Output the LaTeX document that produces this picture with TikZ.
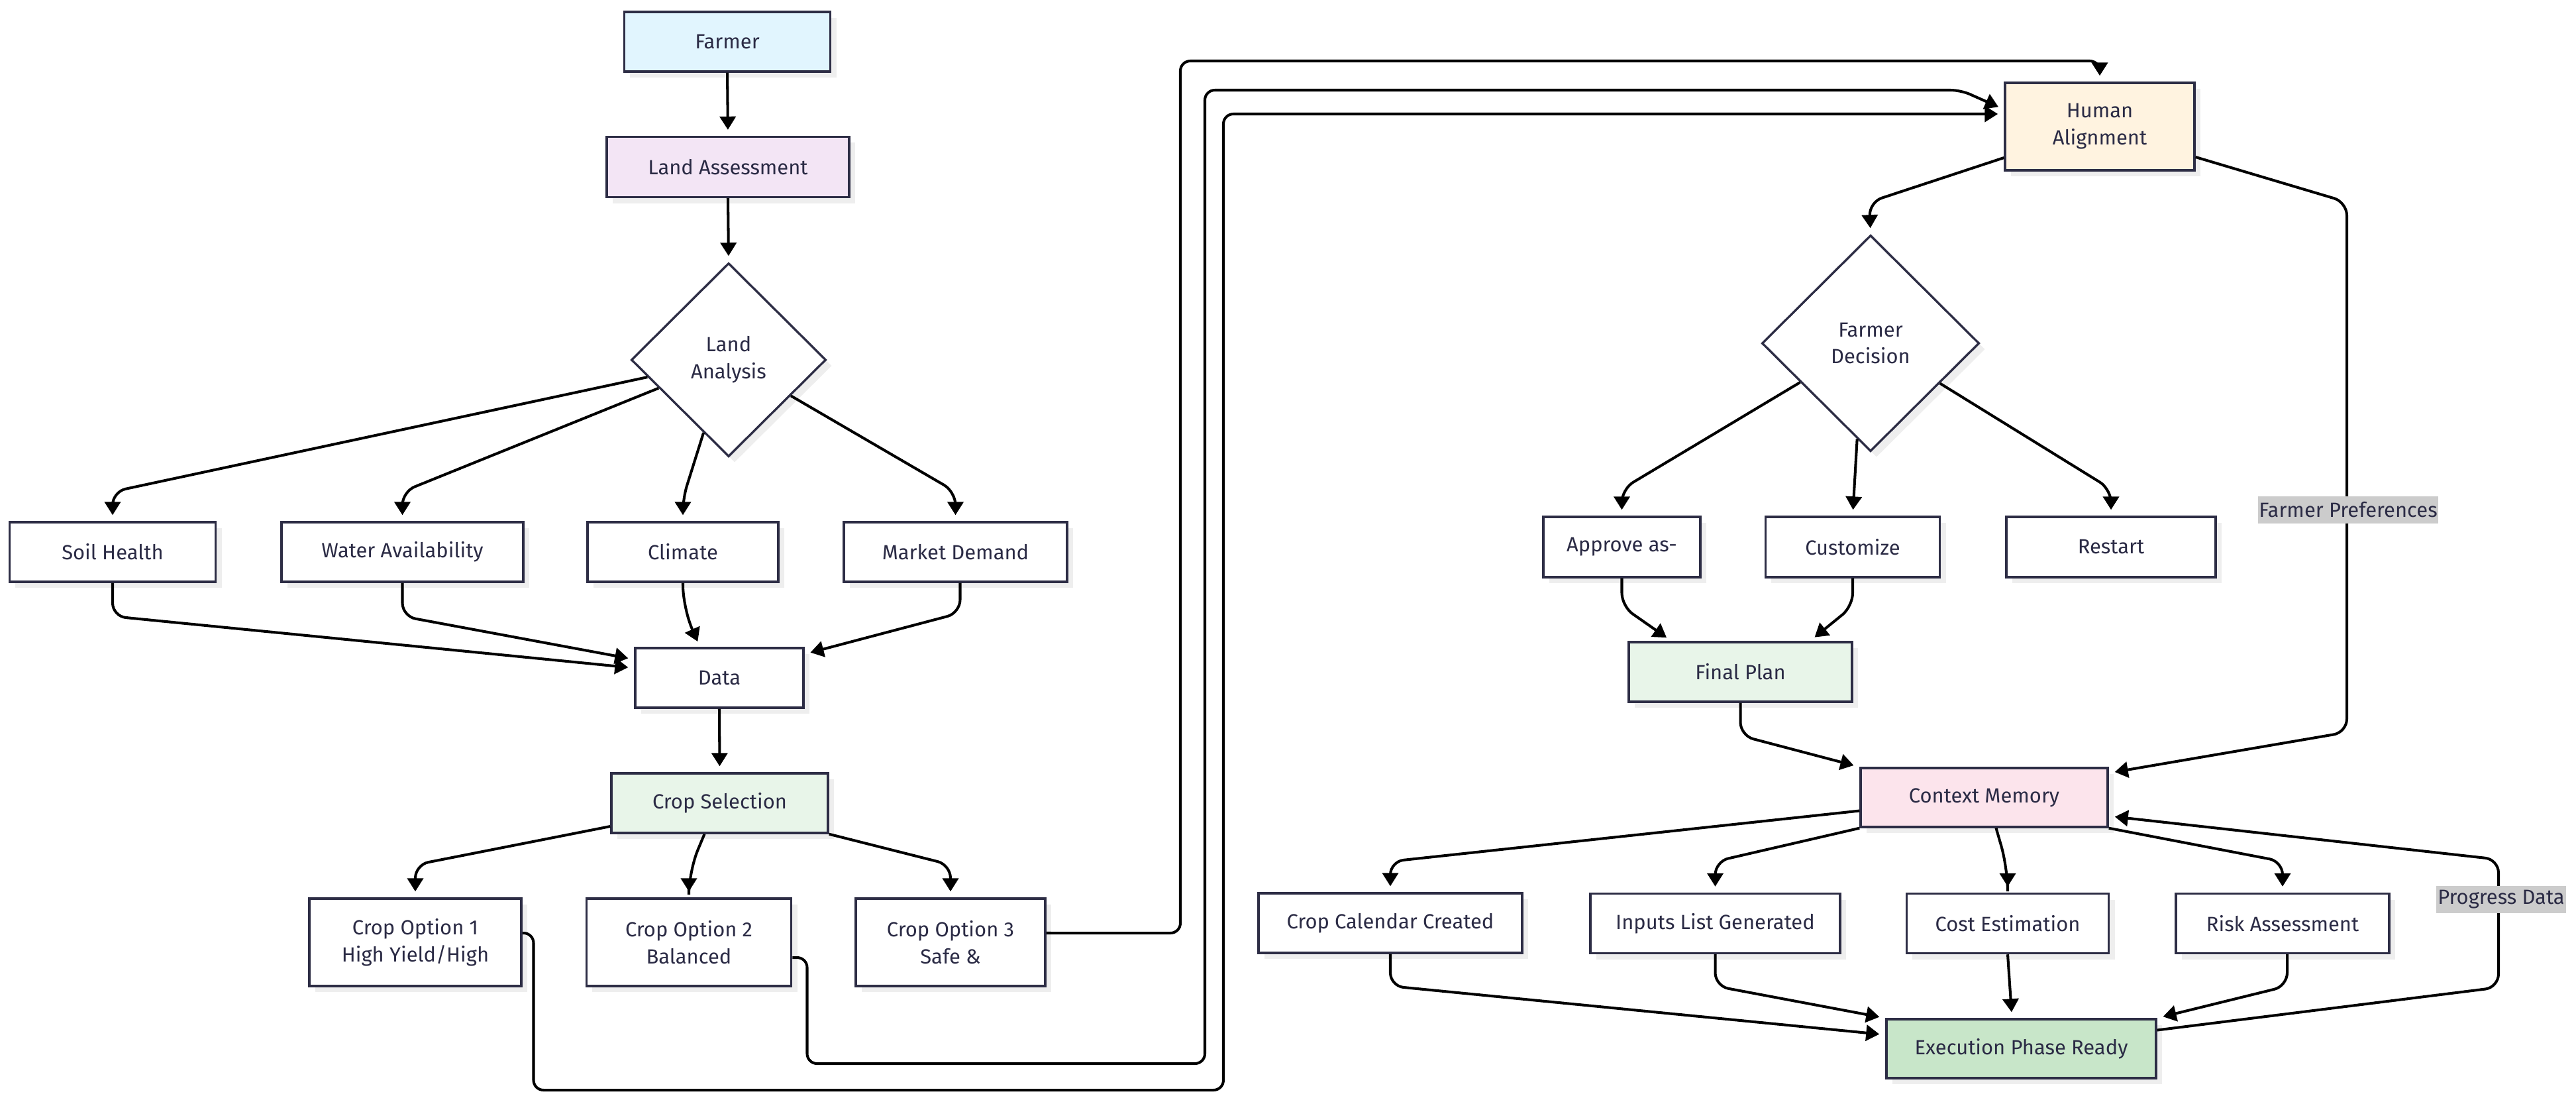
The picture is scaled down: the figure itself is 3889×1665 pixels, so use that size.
\documentclass[tikz,border=0pt]{standalone}
\usepackage{fontspec}
\setmainfont{Fira Sans}
\usetikzlibrary{shapes.geometric,arrows.meta,shadows}
\definecolor{bordc}{HTML}{2D2D45}
\definecolor{txtc}{HTML}{2B2B45}
\definecolor{shdc}{HTML}{EEEEEE}
\definecolor{lblc}{HTML}{CCCCCC}
\definecolor{cfarmer}{HTML}{E1F5FE}
\definecolor{cla}{HTML}{F3E5F5}
\definecolor{cgreen}{HTML}{E8F5E9}
\definecolor{cha}{HTML}{FFF3E0}
\definecolor{ccm}{HTML}{FCE4EC}
\definecolor{cex}{HTML}{C8E6C9}
\newcommand{\myfnt}{\fontsize{8.8}{11.6}\selectfont}
\tikzset{
  box/.style={draw=bordc, line width=0.95pt, fill=white, text=txtc, font=\myfnt,
    align=center, inner sep=0pt,
    drop shadow={shadow xshift=0.09cm, shadow yshift=-0.09cm, fill=shdc, opacity=1}},
  dia/.style={box, diamond, aspect=1},
  lbl/.style={fill=lblc, text=txtc, font=\myfnt, inner sep=0pt, minimum height=0.41cm},
  conn/.style={line width=1.15pt, black, rounded corners=0.2cm,
    -{Triangle[length=0.2cm,width=0.24cm]}, shorten >=0.09cm},
}
\begin{document}
\begin{tikzpicture}[x=0.01cm, y=-0.01cm]
\fill[white] (0,0) rectangle (3889,1665);
\useasboundingbox (0,0) rectangle (3889,1665);

% nodes
\node[box, fill=cfarmer, minimum width=3.11cm, minimum height=0.90cm] (farmer) at (1098,63) {Farmer};
\node[box, fill=cla, minimum width=3.66cm, minimum height=0.91cm] (lassess) at (1099,252) {Land Assessment};
\node[dia, minimum width=2.94cm, minimum height=2.92cm] (lan) at (1100,543) {Land\\Analysis};
\node[box, minimum width=3.11cm, minimum height=0.90cm] (soil) at (170,833) {Soil Health};
\node[box, minimum width=3.65cm, minimum height=0.90cm] (water) at (607.5,833) {Water Availability};
\node[box, minimum width=2.88cm, minimum height=0.90cm] (climate) at (1031,833) {Climate};
\node[box, minimum width=3.37cm, minimum height=0.90cm] (md) at (1442.5,833) {Market Demand};
\node[box, minimum width=2.54cm, minimum height=0.90cm] (data) at (1086,1023) {Data};
\node[box, fill=cgreen, minimum width=3.27cm, minimum height=0.90cm] (cs) at (1086.5,1212) {Crop Selection};
\node[box, minimum width=3.20cm, minimum height=1.32cm] (o1) at (627,1422) {Crop Option 1\\High Yield/High};
\node[box, minimum width=3.09cm, minimum height=1.32cm] (o2) at (1040,1422) {Crop Option 2\\Balanced};
\node[box, minimum width=2.86cm, minimum height=1.32cm] (o3) at (1435,1422) {Crop Option 3\\Safe \&};
\node[box, fill=cha, minimum width=2.86cm, minimum height=1.32cm] (ha) at (3170,191) {Human\\Alignment};
\node[dia, minimum width=3.28cm, minimum height=3.26cm] (fd) at (2824,518) {Farmer\\Decision};
\node[box, minimum width=2.37cm, minimum height=0.91cm] (ap) at (2448.5,825.5) {Approve as-};
\node[box, minimum width=2.63cm, minimum height=0.91cm] (cu) at (2797,825.5) {Customize};
\node[box, minimum width=3.16cm, minimum height=0.91cm] (rs) at (3187,825.5) {Restart};
\node[box, fill=cgreen, minimum width=3.37cm, minimum height=0.90cm] (fp) at (2627.5,1014) {Final Plan};
\node[box, fill=ccm, minimum width=3.73cm, minimum height=0.89cm] (cm) at (2995.5,1203.5) {Context Memory};
\node[box, minimum width=3.98cm, minimum height=0.90cm] (cc) at (2099,1393) {Crop Calendar Created};
\node[box, minimum width=3.77cm, minimum height=0.90cm] (inp) at (2589.5,1393.5) {Inputs List Generated};
\node[box, minimum width=3.05cm, minimum height=0.90cm] (cost) at (3031,1393.5) {Cost Estimation};
\node[box, minimum width=3.22cm, minimum height=0.90cm] (risk) at (3446,1393.5) {Risk Assessment};
\node[box, fill=cex, minimum width=4.07cm, minimum height=0.89cm] (ex) at (3051.5,1582.5) {Execution Phase Ready};

% connectors
\draw[conn] (farmer.south) -- (lassess.north);
\draw[conn] (lassess.south) -- (lan.north);
\draw[conn] (lan.192) -- (170,742) -- (soil.north);
\draw[conn] (lan.202) -- (607.5,742) -- (water.north);
\draw[conn] (lan.251) -- (1031,752) -- (climate.north);
\draw[conn] (lan.330) -- (1442.5,742) -- (md.north);
\draw[conn] (soil.south) -- (170,930) -- ([yshift=0.15cm]data.west);
\draw[conn] (water.south) -- (607.5,930) -- ([yshift=0.28cm]data.west);
\draw[conn, rounded corners=0.35cm] (climate.south) -- (1031,918) -- ([xshift=-0.29cm]data.north);
\draw[conn] ([xshift=0.07cm]md.south) -- (1449.5,925) -- ([yshift=0.36cm]data.east);
\draw[conn] (data.south) -- (cs.north);
\draw[conn] ([yshift=-0.35cm]cs.west) -- (627,1305) -- (o1.north);
\draw[conn, rounded corners=0.35cm] ([xshift=-0.23cm]cs.south) -- (1040,1315) -- (o2.north);
\draw[conn] (cs.south east) -- (1435,1305) -- (o3.north);
% loops to Human Alignment
\draw[conn, rounded corners=0.15cm] ([yshift=0.14cm]o3.east) -- (1782,1408) -- (1782,92) -- (3170,92) -- (ha.north);
\draw[conn, rounded corners=0.15cm] ([yshift=-0.23cm]o2.east) -- (1218.5,1445) -- (1218.5,1605) -- (1819,1605) -- (1819,136) -- (2960,136) -- ([yshift=0.26cm]ha.west);
\draw[conn, rounded corners=0.15cm] ([yshift=0.14cm]o1.east) -- (805.5,1408) -- (805.5,1645) -- (1847,1645) -- (1847,172) -- ([yshift=0.19cm]ha.west);
% right side
\draw[conn] ([yshift=-0.47cm]ha.west) -- (2822,305) -- (fd.north);
\draw[conn] ([yshift=-0.46cm]ha.east) -- (3543,305) -- (3543,1105) -- ([yshift=0.37cm]cm.east);
\draw[conn] (fd.209) -- (2448.5,738) -- (ap.north);
\draw[conn] (fd.262) -- (cu.north);
\draw[conn] (fd.330) -- (3187,738) -- (rs.north);
\draw[conn] (ap.south) -- (2448.5,915) -- ([xshift=-1.04cm]fp.north);
\draw[conn] (cu.south) -- (2797,915) -- ([xshift=1.05cm]fp.north);
\draw[conn] (fp.south) -- (2627.5,1110) -- (cm.north west);
\draw[conn] ([yshift=-0.2cm]cm.west) -- (2099,1300) -- (cc.north);
\draw[conn] (cm.south west) -- (2589.5,1300) -- (inp.north);
\draw[conn, rounded corners=0.35cm] ([xshift=0.18cm]cm.south) -- (3031,1310) -- (cost.north);
\draw[conn] (cm.south east) -- (3446,1300) -- (risk.north);
\draw[conn] (cc.south) -- (2099,1488) -- ([yshift=0.21cm]ex.west);
\draw[conn] (inp.south) -- (2589.5,1488) -- (ex.north west);
\draw[conn] (cost.south) -- ([xshift=-0.14cm]ex.north);
\draw[conn] ([xshift=0.07cm]risk.south) -- (3453,1488) -- (ex.north east);
\draw[conn] ([yshift=0.28cm]ex.east) -- (3772,1490) -- (3772,1297) -- ([yshift=-0.28cm]cm.east);

% edge labels
\node[lbl, minimum width=2.72cm] (lblpref) at (3545,769.5) {Farmer Preferences};
\node[lbl, minimum width=1.96cm] (lblprog) at (3776,1357) {Progress Data};
\end{tikzpicture}
\end{document}
